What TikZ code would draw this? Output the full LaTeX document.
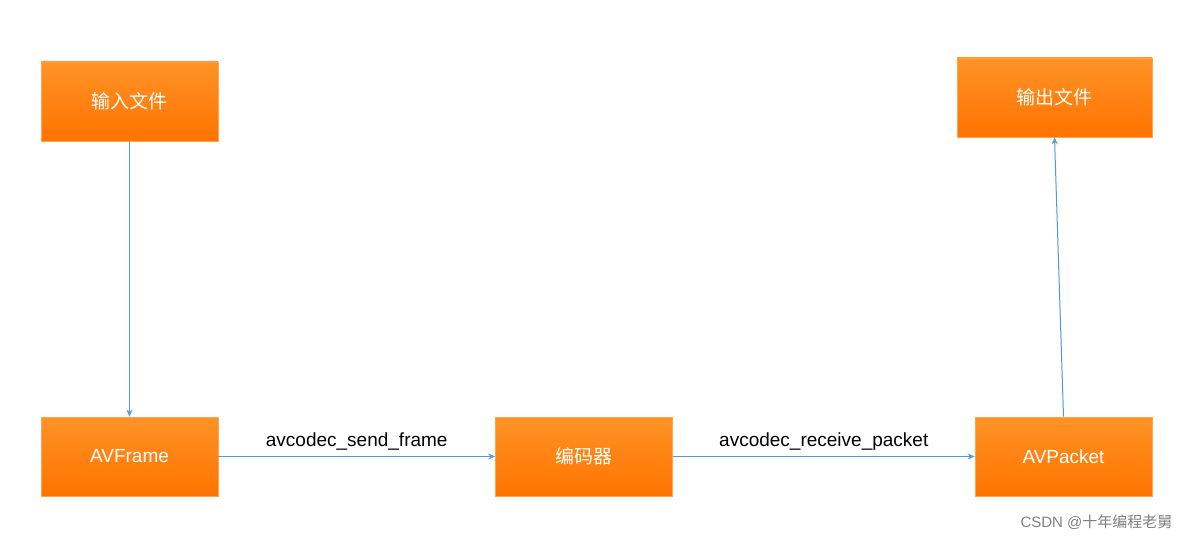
\documentclass[tikz,border=0pt]{standalone}
\usepackage{fontspec}
\usetikzlibrary{arrows.meta}
\setmainfont{Liberation Sans}
\newfontfamily\cjk{Noto Sans CJK SC}
\begin{document}
\begin{tikzpicture}[x=1pt,y=-1pt,
  box/.style={draw=orange!70!white,line width=0.6pt,top color=orange!85!white,bottom color=orange!90!red,minimum width=177pt,minimum height=79pt,inner sep=0pt,text=white,font=\fontsize{19}{22}\selectfont},
  conn/.style={draw=cyan!60!blue!70!white,line width=1pt,-{Stealth[length=7pt,width=6pt,open]}},
  lab/.style={font=\fontsize{19}{22}\selectfont,text=black}]
\useasboundingbox[fill=white] (0,0) rectangle (1188,540);
\node[box] (in) at (129.5,101.5) {\cjk 输入文件};
\node[box] (fr) at (129.5,456.5) {AVFrame};
\node[box] (enc) at (584,456.5) {\cjk 编码器};
\node[box] (pk) at (1063.5,456.5) {AVPacket};
\node[box,minimum width=195pt] (out) at (1054.5,97.5) {\cjk 输出文件};
\draw[conn] (in) -- (fr);
\draw[conn] (fr) -- node[lab,above=2pt]{avcodec\_send\_frame} (enc);
\draw[conn] (enc) -- node[lab,above=2pt]{avcodec\_receive\_packet} (pk);
\draw[conn] (pk.north) -- (out.south);
\node[text=gray,font=\fontsize{15}{18}\selectfont,anchor=east] (wm) at (1176,522) {CSDN @\cjk 十年编程老舅};
\end{tikzpicture}
\end{document}
